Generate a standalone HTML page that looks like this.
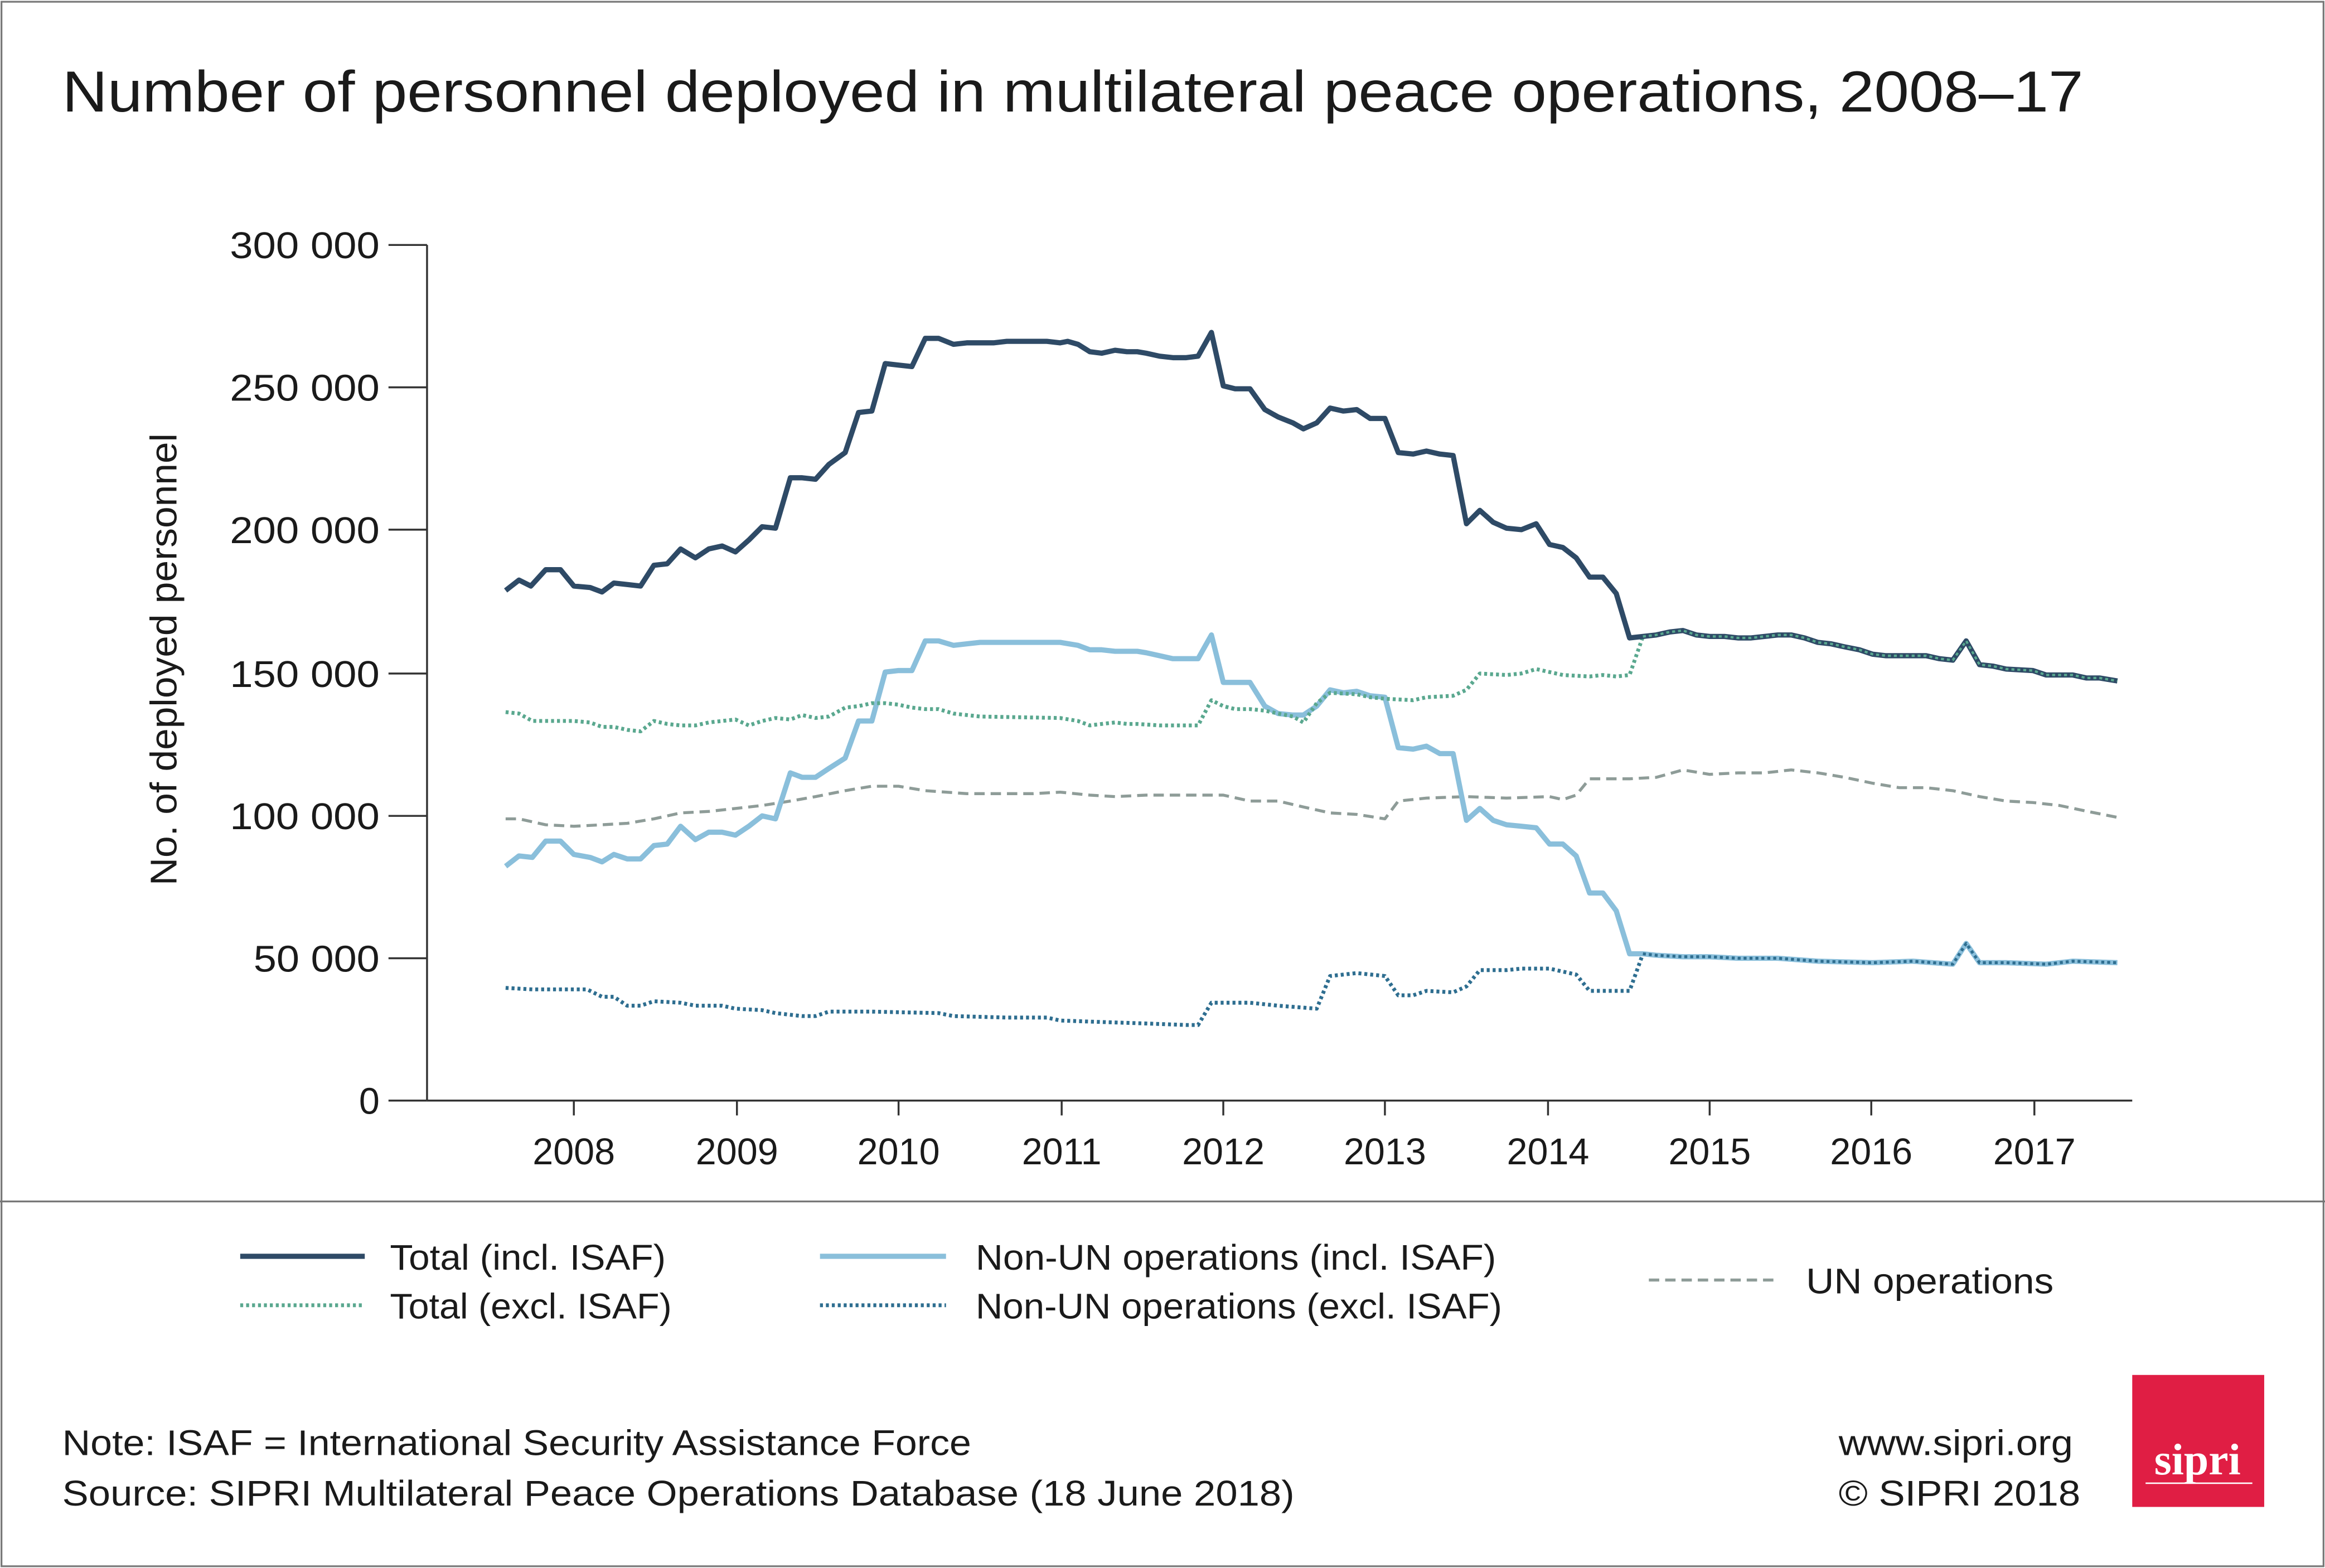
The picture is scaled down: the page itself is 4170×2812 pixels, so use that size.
<!DOCTYPE html>
<html><head><meta charset="utf-8"><style>
html,body{margin:0;padding:0;background:#fff;}
svg{display:block;}
text{font-family:"Liberation Sans",sans-serif;fill:#1a1a1a;}
</style></head><body>
<svg width="4170" height="2812" viewBox="0 0 1568 1057" xmlns="http://www.w3.org/2000/svg">
<rect x="0" y="0" width="1568" height="1057" fill="#fff"/>
<rect x="1" y="1" width="1566" height="1055" fill="none" stroke="#777" stroke-width="1.2"/>
<line x1="0" y1="810" x2="1568" y2="810" stroke="#777" stroke-width="1.2"/>
<text x="42" y="75" font-size="39" textLength="1363" lengthAdjust="spacingAndGlyphs">Number of personnel deployed in multilateral peace operations, 2008–17</text>

<g stroke="#333" stroke-width="1.3">
<line x1="288" y1="165" x2="288" y2="742"/>
<line x1="288" y1="742" x2="1438" y2="742"/>
<line x1="262" y1="165" x2="288" y2="165"/><line x1="262" y1="261" x2="288" y2="261"/>
<line x1="262" y1="357" x2="288" y2="357"/><line x1="262" y1="454" x2="288" y2="454"/>
<line x1="262" y1="550" x2="288" y2="550"/><line x1="262" y1="646" x2="288" y2="646"/>
<line x1="262" y1="742" x2="288" y2="742"/>
<line x1="387" y1="742" x2="387" y2="752"/><line x1="497" y1="742" x2="497" y2="752"/>
<line x1="606" y1="742" x2="606" y2="752"/><line x1="716" y1="742" x2="716" y2="752"/>
<line x1="825" y1="742" x2="825" y2="752"/><line x1="934" y1="742" x2="934" y2="752"/>
<line x1="1044" y1="742" x2="1044" y2="752"/><line x1="1153" y1="742" x2="1153" y2="752"/>
<line x1="1262" y1="742" x2="1262" y2="752"/><line x1="1372" y1="742" x2="1372" y2="752"/>
</g>
<g font-size="25">
<text x="155" y="174" textLength="101" lengthAdjust="spacingAndGlyphs">300 000</text>
<text x="155" y="270" textLength="101" lengthAdjust="spacingAndGlyphs">250 000</text>
<text x="155" y="366" textLength="101" lengthAdjust="spacingAndGlyphs">200 000</text>
<text x="155" y="463" textLength="101" lengthAdjust="spacingAndGlyphs">150 000</text>
<text x="155" y="559" textLength="101" lengthAdjust="spacingAndGlyphs">100 000</text>
<text x="171" y="655" textLength="85" lengthAdjust="spacingAndGlyphs">50 000</text>
<text x="256" y="751" text-anchor="end">0</text>
</g>
<g font-size="25" text-anchor="middle">
<text x="387" y="785">2008</text><text x="497" y="785">2009</text><text x="606" y="785">2010</text>
<text x="716" y="785">2011</text><text x="825" y="785">2012</text><text x="934" y="785">2013</text>
<text x="1044" y="785">2014</text><text x="1153" y="785">2015</text><text x="1262" y="785">2016</text>
<text x="1372" y="785">2017</text>
</g>
<text transform="translate(119,597) rotate(-90)" font-size="25" textLength="305" lengthAdjust="spacingAndGlyphs">No. of deployed personnel</text>

<g fill="none" stroke-linejoin="round" stroke-linecap="butt">
<polyline stroke="#8e9c98" stroke-width="2" stroke-dasharray="7 4" points="341,552 350,552 368,556 387,557 406,556 423,555 441,552 459,548 478,547 496,545 514,543 533,540 550,537 570,533 588,530 606,530 624,533 652,535 679,535 697,535 715,534 735,536 752,537 773,536 808,536 825,536 843,540 862,540 879,544 897,548 915,549 934,552 943,540 962,538 989,537 1016,538 1045,537 1054,539 1063,536 1072,525 1099,525 1117,524 1135,519 1153,522 1172,521 1190,521 1208,519 1226,521 1244,524 1263,528 1281,531 1299,531 1317,533 1335,537 1353,540 1371,541 1389,543 1408,547 1428,551"/>
<polyline stroke="#2e6e90" stroke-width="2.6" stroke-dasharray="2 2" points="341,666 359,667 378,667 396,667 406,672 414,672 423,678 432,678 441,675 459,676 469,678 487,678 496,680 514,681 523,683 541,685 550,685 559,682 588,682 633,683 643,685 679,686 706,686 715,688 743,689 773,690 800,691 808,691 817,676 843,676 862,678 888,680 897,658 915,656 934,658 943,671 953,671 962,668 980,669 989,665 998,654 1016,654 1026,653 1045,653 1054,655 1063,657 1072,668 1099,668 1108,643"/>
<polyline stroke="#8abfdb" stroke-width="3.5" points="341,584 350,577 359,578 368,567 378,567 387,576 398,578 406,581 414,576 423,579 432,579 441,570 450,569 459,557 469,566 478,561 487,561 496,563 505,557 514,550 523,552 533,521 541,524 550,524 559,518 570,511 579,486 588,486 597,453 606,452 615,452 624,432 633,432 643,435 652,434 661,433 697,433 715,433 727,435 735,438 743,438 752,439 767,439 773,440 782,442 791,444 808,444 817,428 825,460 843,460 853,476 862,481 872,482 879,482 888,476 897,465 906,467 915,466 924,469 934,470 943,504 953,505 962,503 971,508 980,508 989,553 998,545 1007,553 1016,556 1026,557 1036,558 1045,569 1054,569 1063,577 1072,602 1081,602 1090,614 1099,643 1108,643 1117,644 1135,645 1153,645 1172,646 1199,646 1226,648 1263,649 1290,648 1317,650 1326,636 1335,649 1353,649 1380,650 1398,648 1428,649"/>
<polyline stroke="#2e6e90" stroke-width="2" stroke-dasharray="2 2" points="1108,643 1117,644 1135,645 1153,645 1172,646 1199,646 1226,648 1263,649 1290,648 1317,650 1326,636 1335,649 1353,649 1380,650 1398,648 1428,649"/>
<polyline stroke="#5aa88f" stroke-width="2.6" stroke-dasharray="2 2" points="341,480 350,481 359,486 378,486 387,486 398,487 406,490 414,490 423,492 432,493 441,486 450,488 459,489 469,489 478,487 487,486 496,485 505,489 514,486 523,484 533,485 541,482 550,484 559,483 570,477 579,476 588,474 597,474 606,475 615,477 624,478 633,478 643,481 652,482 661,483 715,484 727,486 735,489 743,488 752,487 760,488 767,488 782,489 808,489 817,472 825,476 833,478 843,478 853,479 862,481 872,483 879,487 888,474 897,467 915,468 924,470 934,471 953,472 962,470 980,469 989,465 998,454 1016,455 1026,454 1036,451 1045,453 1054,455 1072,456 1081,455 1090,456 1099,455 1108,429"/>
<polyline stroke="#2e4a66" stroke-width="3.5" points="341,398 350,391 358,395 368,384 378,384 387,395 398,396 406,399 414,393 423,394 432,395 441,381 450,380 459,370 469,376 478,370 487,368 496,372 505,364 514,355 523,356 533,322 541,322 550,323 559,313 570,305 579,278 588,277 597,245 606,246 615,247 624,228 633,228 643,232 652,231 670,231 679,230 706,230 715,231 720,230 727,232 735,237 743,238 752,236 760,237 767,237 773,238 782,240 791,241 800,241 808,240 817,224 825,260 833,262 843,262 853,276 862,281 872,285 879,289 888,285 897,275 906,277 915,276 924,282 934,282 943,305 953,306 962,304 971,306 980,307 989,353 998,344 1007,352 1016,356 1026,357 1036,353 1045,367 1054,369 1063,376 1072,389 1081,389 1090,400 1099,430 1108,429 1117,428 1126,426 1135,425 1144,428 1153,429 1163,429 1172,430 1181,430 1190,429 1199,428 1208,428 1217,430 1226,433 1235,434 1244,436 1254,438 1263,441 1272,442 1299,442 1308,444 1317,445 1326,432 1335,448 1344,449 1353,451 1371,452 1380,455 1398,455 1407,457 1416,457 1428,459"/>
<polyline stroke="#5aa88f" stroke-width="1.6" stroke-dasharray="2 2" points="1108,429 1117,428 1126,426 1135,425 1144,428 1153,429 1163,429 1172,430 1181,430 1190,429 1199,428 1208,428 1217,430 1226,433 1235,434 1244,436 1254,438 1263,441 1272,442 1299,442 1308,444 1317,445 1326,432 1335,448 1344,449 1353,451 1371,452 1380,455 1398,455 1407,457 1416,457 1428,459"/>
</g>

<g fill="none">
<line x1="162" y1="847" x2="246" y2="847" stroke="#2e4a66" stroke-width="3.5"/>
<line x1="162" y1="880" x2="246" y2="880" stroke="#5aa88f" stroke-width="2.6" stroke-dasharray="2 2"/>
<line x1="553" y1="847" x2="638" y2="847" stroke="#8abfdb" stroke-width="3.5"/>
<line x1="553" y1="880" x2="638" y2="880" stroke="#2e6e90" stroke-width="2.6" stroke-dasharray="2 2"/>
<line x1="1112" y1="863" x2="1197" y2="863" stroke="#8e9c98" stroke-width="2" stroke-dasharray="7 4"/>
</g>
<g font-size="24">
<text x="263" y="856" textLength="186" lengthAdjust="spacingAndGlyphs">Total (incl. ISAF)</text>
<text x="263" y="889" textLength="190" lengthAdjust="spacingAndGlyphs">Total (excl. ISAF)</text>
<text x="658" y="856" textLength="351" lengthAdjust="spacingAndGlyphs">Non-UN operations (incl. ISAF)</text>
<text x="658" y="889" textLength="355" lengthAdjust="spacingAndGlyphs">Non-UN operations (excl. ISAF)</text>
<text x="1218" y="872" textLength="167" lengthAdjust="spacingAndGlyphs">UN operations</text>
<text x="42" y="981" textLength="613" lengthAdjust="spacingAndGlyphs">Note: ISAF = International Security Assistance Force</text>
<text x="42" y="1015" textLength="831" lengthAdjust="spacingAndGlyphs">Source: SIPRI Multilateral Peace Operations Database (18 June 2018)</text>
<text x="1240" y="981" textLength="158" lengthAdjust="spacingAndGlyphs">www.sipri.org</text>
<text x="1240" y="1015" textLength="163" lengthAdjust="spacingAndGlyphs">© SIPRI 2018</text>
</g>
<rect x="1438" y="927" width="89" height="89" fill="#e01e44"/>
<text x="1482" y="994" font-size="30" font-weight="bold" text-anchor="middle" style="font-family:'Liberation Serif',serif;fill:#fff">sipri</text>
<line x1="1447" y1="1000" x2="1519" y2="1000" stroke="#fff" stroke-width="1"/>
</svg>
</body></html>
